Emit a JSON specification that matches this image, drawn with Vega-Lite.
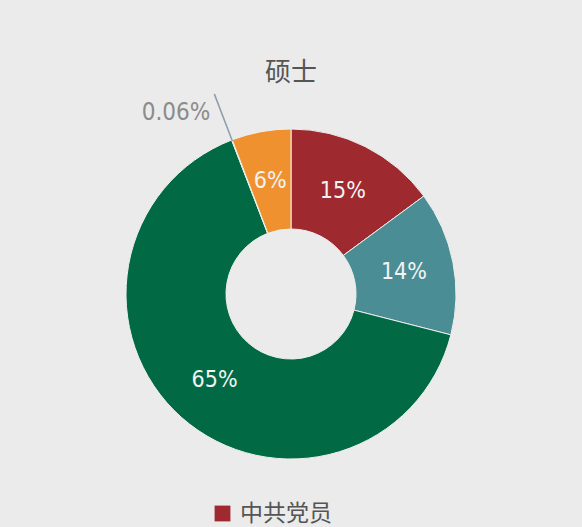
{
  "$schema": "https://vega.github.io/schema/vega-lite/v6.json",
  "width": 582,
  "height": 422,
  "autosize": "none",
  "padding": {"left": 0, "top": 83, "right": 0, "bottom": 22},
  "background": "#eaebea",
  "title": {
    "text": "硕士",
    "font": "Noto Sans CJK SC",
    "fontSize": 26,
    "fontWeight": "normal",
    "color": "#555555",
    "offset": -6
  },
  "data": {
    "values": [
      {"idx": 1, "category": "中共党员", "value": 14.9, "label": "15%", "outer": ""},
      {"idx": 2, "category": "中共预备党员", "value": 14.1, "label": "14%", "outer": ""},
      {"idx": 3, "category": "共青团员", "value": 65.2, "label": "65%", "outer": ""},
      {"idx": 4, "category": "民主党派", "value": 0.06, "label": "", "outer": "0.06%"},
      {"idx": 5, "category": "群众", "value": 5.8, "label": "6%", "outer": ""}
    ]
  },
  "encoding": {
    "theta": {"field": "value", "type": "quantitative", "stack": true},
    "order": {"field": "idx", "type": "quantitative"}
  },
  "layer": [
    {
      "mark": {"type": "arc", "radius": 165, "radius2": 65, "stroke": "#eef0ee", "strokeWidth": 1},
      "encoding": {
        "color": {
          "field": "category",
          "type": "nominal",
          "scale": {
            "domain": ["中共党员", "中共预备党员", "共青团员", "民主党派", "群众"],
            "range": ["#9e2a2f", "#4b8d94", "#016a45", "#b7c7d4", "#f0912f"]
          },
          "legend": {
            "orient": "none",
            "legendX": 211,
            "legendY": 419,
            "direction": "vertical",
            "title": null,
            "symbolType": "square",
            "symbolSize": 250,
            "symbolStrokeWidth": 0,
            "symbolOpacity": 1,
            "labelFont": "Noto Sans CJK SC",
            "labelFontSize": 23,
            "labelColor": "#555555",
            "labelOffset": 6,
            "rowPadding": 30,
            "padding": 0
          }
        }
      }
    },
    {
      "mark": {"type": "arc", "radius": 214, "radius2": 164, "stroke": "#8a9aa8", "strokeWidth": 0.8, "fill": "#8a9aa8"},
      "encoding": {
        "detail": {"field": "category"},
        "opacity": {"condition": {"test": "datum.outer != ''", "value": 1}, "value": 0}
      }
    },
    {
      "mark": {"type": "text", "radius": 115, "font": "DejaVu Sans Condensed, Liberation Sans Narrow, sans-serif", "fontSize": 23, "color": "#f3f3f3"},
      "encoding": {
        "detail": {"field": "category"},
        "text": {"field": "label"}
      }
    },
    {
      "mark": {"type": "text", "radius": 206, "align": "right", "baseline": "middle", "dx": -7, "dy": 11, "font": "DejaVu Sans Condensed, Liberation Sans Narrow, sans-serif", "fontSize": 24, "color": "#8c8c8c"},
      "encoding": {
        "detail": {"field": "category"},
        "text": {"field": "outer"}
      }
    }
  ],
  "config": {"view": {"stroke": null}}
}
